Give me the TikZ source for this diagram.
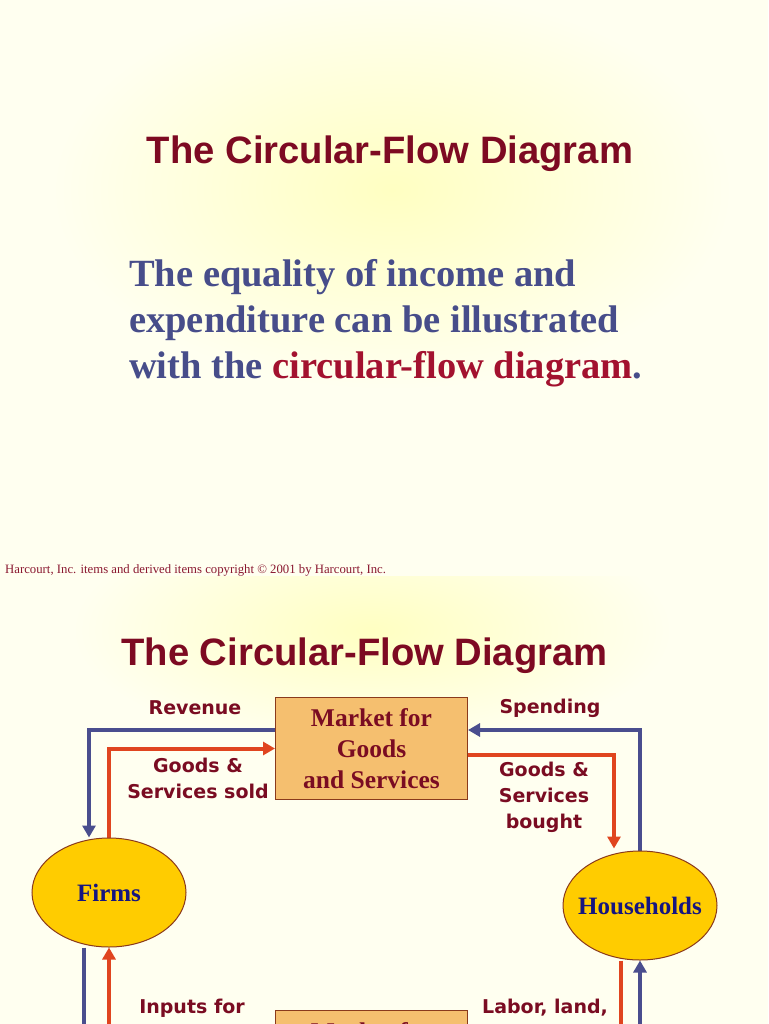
\documentclass[tikz,border=0pt]{standalone}
\usepackage{fontspec}
\setmainfont{Liberation Serif}
\newfontfamily\headfont{Liberation Sans}
\newfontfamily\flowfont{DejaVu Sans}
\usetikzlibrary{arrows.meta,shapes.geometric,backgrounds}

\definecolor{bgcream}{HTML}{FFFFF0}
\definecolor{glow}{HTML}{FFFFC2}
\definecolor{titlered}{HTML}{7D0A22}
\definecolor{bodyblue}{HTML}{474D8A}
\definecolor{bodyred}{HTML}{A3122F}
\definecolor{labred}{HTML}{7A0C22}
\definecolor{copyred}{HTML}{8A1830}
\definecolor{boxfill}{HTML}{F5BF6F}
\definecolor{edgebrown}{HTML}{8A3A1C}
\definecolor{sunyellow}{HTML}{FFCC00}
\definecolor{navytext}{HTML}{151580}
\definecolor{flowblue}{HTML}{4A4E8E}
\definecolor{flowred}{HTML}{E0451F}

\tikzset{slidetitle/.style={anchor=base, inner sep=0pt, text=titlered,
           font=\headfont\bfseries\fontsize{38.2}{44}\selectfont}}
\tikzset{market/.style={draw=edgebrown, fill=boxfill, line width=1pt,
           minimum width=192pt, minimum height=102pt, align=center, text=labred,
           font=\bfseries\fontsize{25.5}{31}\selectfont}}
\tikzset{sector/.style={ellipse, draw=edgebrown, fill=sunyellow, line width=1pt,
           minimum width=154pt, minimum height=109pt, inner sep=0pt}}
\tikzset{sectorname/.style={inner sep=0pt, text=navytext,
           font=\bfseries\fontsize{25}{30}\selectfont}}
\tikzset{flowlabel/.style={align=center, inner sep=0pt, text=labred,
           font=\flowfont\bfseries\fontsize{19}{26}\selectfont}}
\tikzset{moneyflow/.style={draw=flowblue, line width=4pt, -{Triangle[length=12pt,width=13pt]}}}
\tikzset{realflow/.style={draw=flowred, line width=4pt, -{Triangle[length=12pt,width=13pt]}}}

\begin{document}
\begin{tikzpicture}[x=1pt, y=-1pt]
    \useasboundingbox (0,0) rectangle (768,1024);
    \clip (0,0) rectangle (768,1024);

    % first slide
    \node[slidetitle] (title1) at (390,164) {The Circular-Flow Diagram};
    \node[anchor=north west, inner sep=0pt, align=left, text=bodyblue,
          font=\bfseries\fontsize{38.5}{46}\selectfont] (intro) at (129,259)
          {The equality of income and\\
           expenditure can be illustrated\\
           with the \textcolor{bodyred}{circular-flow diagram}.};
    \node[anchor=base west, inner sep=0pt, text=copyred,
          font=\fontsize{12.75}{14}\selectfont] (copy) at (5,573)
          {Harcourt, Inc. items and derived items copyright \textcopyright{} 2001 by Harcourt, Inc.};

    % second slide
    \node[slidetitle] (title2) at (364.5,665) {The Circular-Flow Diagram};

    \node[market] (goods) at (371.5,748.5) {Market for\\Goods\\and Services};
    \node[market] (factors) at (371.5,1061) {};
    \node[text=labred, inner sep=0pt, font=\bfseries\fontsize{25.5}{31}\selectfont]
          (factxt) at ([yshift=-22.5pt]factors.north) {Market for};

    \node[sector, label={[sectorname]center:Firms}] (firms) at (109,892.5) {};
    \node[sector, label={[sectorname]center:Households}] (homes) at (640,905.5) {};

    \node[flowlabel] (revenue) at (195,708) {Revenue};
    \node[flowlabel] (sold) at (198,778) {Goods \&\\Services sold};
    \node[flowlabel] (spending) at (550,708) {Spending};
    \node[flowlabel] (bought) at (544,797) {Goods \&\\Services\\bought};
    \node[flowlabel] (inputs) at (192,1008) {Inputs for};
    \node[flowlabel] (labor) at (545,1008) {Labor, land,};

    \begin{scope}[on background layer]
        \fill[bgcream] (0,0) rectangle (768,1024);
        \shade[inner color=glow, outer color=bgcream] (392,190) ellipse (340 and 200);
        \begin{scope}
            \clip (0,576) rectangle (768,1024);
            \shade[inner color=glow, outer color=bgcream] (372,630) ellipse (300 and 120);
        \end{scope}

        \draw[moneyflow] ([yshift=18.5pt]goods.west) -| ([xshift=-20pt]firms.north);
        \draw[realflow] (firms.north) |- (goods.west);
        \draw[moneyflow] (homes.north) |- ([yshift=18.5pt]goods.east);
        \draw[realflow] ([yshift=-6.5pt]goods.east) -| ([xshift=-26pt,yshift=2pt]homes.north);

        \draw[moneyflow] ([xshift=-25pt]firms.south) |- ([yshift=18.5pt]factors.west);
        \draw[realflow] ([yshift=-6.5pt]factors.west) -| (firms.south);
        \draw[realflow] ([xshift=-19pt]homes.south) |- ([yshift=-6.5pt]factors.east);
        \draw[moneyflow] ([yshift=18.5pt]factors.east) -| (homes.south);
    \end{scope}
\end{tikzpicture}
\end{document}
